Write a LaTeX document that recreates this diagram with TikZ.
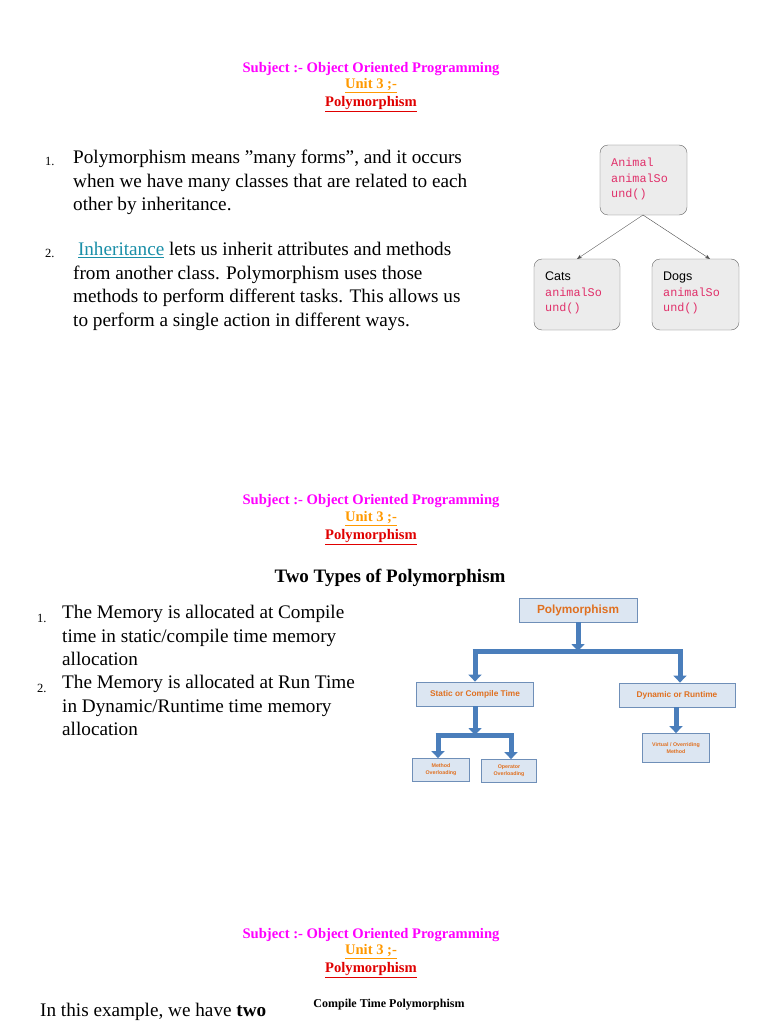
\documentclass[tikz,border=0pt]{standalone}
\usepackage{fontspec}
\setmainfont{Liberation Serif}
\newfontfamily\sansf{Liberation Sans}
\newfontfamily\monof{Liberation Mono}
\usetikzlibrary{arrows.meta}
\definecolor{mag}{HTML}{FF00FF}
\definecolor{org}{HTML}{FF9900}
\definecolor{redh}{HTML}{E00000}
\definecolor{teal2}{HTML}{1A8FA8}
\definecolor{codec}{HTML}{E0306A}
\definecolor{bboxf}{HTML}{DCE6F2}
\definecolor{bboxd}{HTML}{6F8FB8}
\definecolor{barc}{HTML}{4A7EBB}
\definecolor{otxt}{HTML}{E07020}
\newcommand{\dq}{\symbol{34}}
\tikzset{
 hd/.style={font=\bfseries\fontsize{14.6}{16}\selectfont, anchor=center},
 body/.style={font=\fontsize{19.2}{23.5}\selectfont, anchor=base west, inner sep=0},
 num/.style={font=\fontsize{12.5}{14}\selectfont, anchor=base west, inner sep=0},
 gbox/.style={draw=gray!80!black, fill=gray!15, rounded corners=8pt},
 code/.style={font=\monof\fontsize{11.8}{15.5}\selectfont, text=codec, anchor=north west, inner sep=0, align=left},
 bbox/.style={draw=bboxd, fill=bboxf, line width=0.8pt},
 btxt/.style={font=\sansf\bfseries, text=otxt},
 bar/.style={draw=barc, line width=5pt},
 barr/.style={draw=barc, line width=5pt, -{Triangle[width=13pt,length=7pt]}},
}
\begin{document}
\begin{tikzpicture}[x=1pt,y=-1pt]
\useasboundingbox[fill=white] (0,0) rectangle (768,1024);
% ---------- section 1 ----------
\node[hd,text=mag] (h1a) at (371,69) {Subject :- Object Oriented Programming};
\node[hd,text=org] (h1b) at (371,86) {\underline{Unit 3 ;-}};
\node[hd,text=redh] (h1c) at (371,104) {\underline{Polymorphism}};
\node[num] (n1) at (45,166) {1.};
\node[body,align=left,anchor=north west] (t1) at (73,150) {Polymorphism means \dq many forms\dq, and it occurs\\when we have many classes that are related to each\\other by inheritance.};
\node[num] (n2) at (45,258) {2.};
\node[body,align=left,anchor=north west] (t2) at (73,242) {\ {\color{teal2}\underline{Inheritance}} lets us inherit attributes and methods\\from another class. Polymorphism uses those\\methods to perform different tasks. This allows us\\to perform a single action in different ways.};
% class boxes
\draw[gbox] (600,145) rectangle (687,215);
\node[code] (an) at (611,158) {Animal\\animalSo\\und()};
\coordinate (anb) at (643,215);
\draw[gbox] (534,259) rectangle (620,330);
\node[code] (ca) at (545,272) {{\sansf\color{black}\fontsize{12.5}{15.5}\selectfont Cats}\\animalSo\\und()};
\draw[gbox] (652,259) rectangle (739,330);
\node[code] (dg) at (663,272) {{\sansf\color{black}\fontsize{12.5}{15.5}\selectfont Dogs}\\animalSo\\und()};
\coordinate (cat) at (577,259);
\coordinate (dgt) at (710,259);
\draw[gray!60!black,-{Stealth[length=5pt]}] (anb) -- (cat);
\draw[gray!60!black,-{Stealth[length=5pt]}] (anb) -- (dgt);
% ---------- section 2 ----------
\node[hd,text=mag] (h2a) at (371,501) {Subject :- Object Oriented Programming};
\node[hd,text=org] (h2b) at (371,519) {\underline{Unit 3 ;-}};
\node[hd,text=redh] (h2c) at (371,537) {\underline{Polymorphism}};
\node[font=\bfseries\fontsize{19}{22}\selectfont] (tt) at (390,578) {Two Types of Polymorphism};
\node[num] (m1) at (37,622) {1.};
\node[body,align=left,anchor=north west] (u1) at (62,605) {The Memory is allocated at Compile\\time in static/compile time memory\\allocation};
\node[num] (m2) at (37,692) {2.};
\node[body,align=left,anchor=north west] (u2) at (62,675) {The Memory is allocated at Run Time\\in Dynamic/Runtime time memory\\allocation};
% tree
\node[bbox,minimum width=118pt,minimum height=24pt,btxt,font=\sansf\bfseries\fontsize{11.8}{13}\selectfont] (P) at (578,610) {Polymorphism};
\node[bbox,minimum width=117pt,minimum height=24pt,btxt,font=\sansf\bfseries\fontsize{8.3}{9}\selectfont] (S) at (475,694) {Static or Compile Time};
\node[bbox,minimum width=116pt,minimum height=24pt,btxt,font=\sansf\bfseries\fontsize{8.3}{9}\selectfont] (D) at (677,695) {Dynamic or Runtime};
\node[bbox,minimum width=57pt,minimum height=23pt,btxt,align=center,font=\sansf\bfseries\fontsize{5.3}{6.8}\selectfont] (M) at (441,770) {Method\\Overloading};
\node[bbox,minimum width=55pt,minimum height=23pt,btxt,align=center,font=\sansf\bfseries\fontsize{5.3}{6.8}\selectfont] (O) at (509,771) {Operator\\Overloading};
\node[bbox,minimum width=67pt,minimum height=29pt,btxt,align=center,font=\sansf\bfseries\fontsize{5.3}{6.8}\selectfont] (V) at (676,748) {Virtual / Overriding\\Method};
\coordinate (j1) at (578,651);
\coordinate (j1l) at (475,651);
\coordinate (j1r) at (680,651);
\draw[barr] (P.south) -- (j1);
\draw[bar] ([xshift=-2.5pt]j1l) -- ([xshift=2.5pt]j1r);
\draw[barr] (j1l) -- (j1l |- S.north);
\draw[barr] (j1r) -- (j1r |- D.north);
\coordinate (j2) at (475,735);
\coordinate (j2l) at (438,735);
\coordinate (j2r) at (511,735);
\draw[barr] (S.south) -- (j2);
\draw[bar] ([xshift=-2.5pt]j2l) -- ([xshift=2.5pt]j2r);
\draw[barr] (j2l) -- (j2l |- M.north);
\draw[barr] (j2r) -- (j2r |- O.north);
\draw[barr] (D.south -| V.north) -- (V.north);
% ---------- section 3 ----------
\node[hd,text=mag] (h3a) at (371,935) {Subject :- Object Oriented Programming};
\node[hd,text=org] (h3b) at (371,952) {\underline{Unit 3 ;-}};
\node[hd,text=redh] (h3c) at (371,970) {\underline{Polymorphism}};
\node[body] (ex) at (40,1016) {In this example, we have \textbf{two}};
\node[font=\bfseries\fontsize{12}{14}\selectfont] (ct) at (389,1005) {Compile Time Polymorphism};
\end{tikzpicture}
\end{document}
